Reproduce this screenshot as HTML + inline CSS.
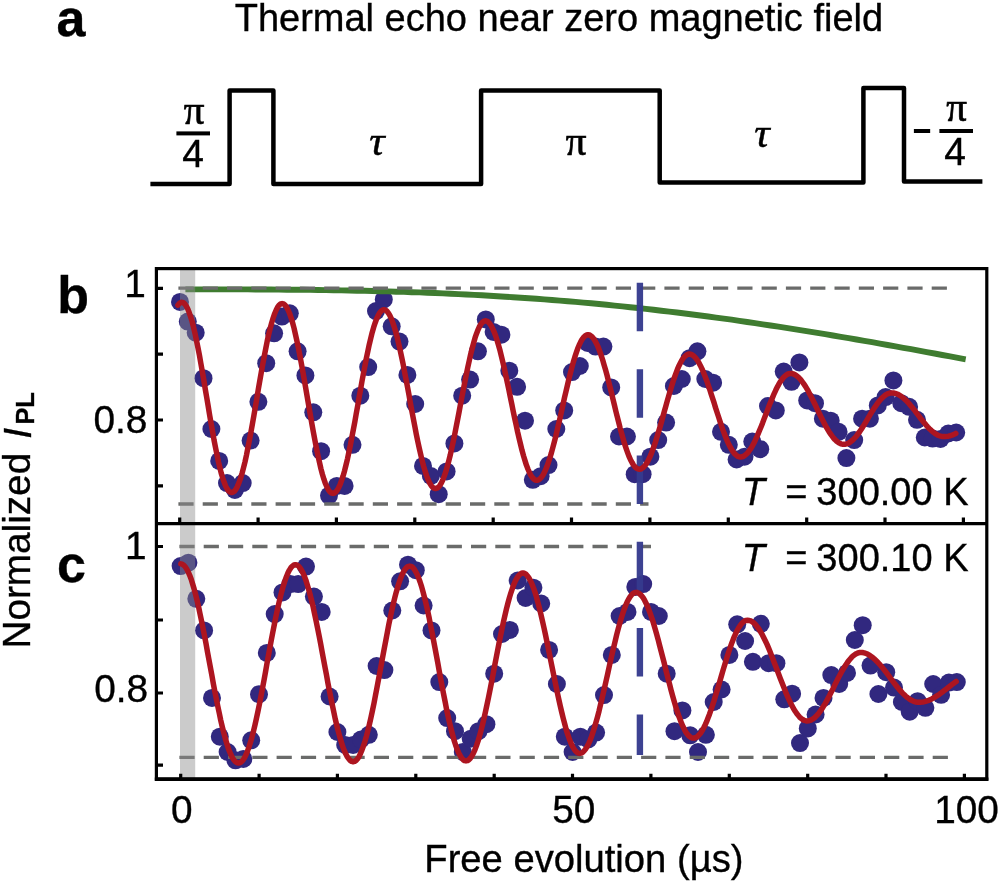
<!DOCTYPE html>
<html lang="en"><head><meta charset="utf-8"><title>Thermal echo near zero magnetic field</title>
<style>html,body{margin:0;padding:0;background:#fff}body{width:1000px;height:883px;overflow:hidden}svg{display:block}text{white-space:pre}</style>
</head><body>
<svg width="1000" height="883" viewBox="0 0 1000 883">
<rect width="1000" height="883" fill="#fff"/>
<g font-family="Liberation Sans, Arial, sans-serif" fill="#000" stroke="#000" stroke-width="0.35">
<text x="56.5" y="36.3" font-size="52" font-weight="bold">a</text>
<text x="558.9" y="30.6" font-size="38" text-anchor="middle">Thermal echo near zero magnetic field</text>
</g>
<path d="M150.4,184 H229.6 V90.4 H273.4 V184 H481.1 V90.4 H659.7 V182.4 H863.4 V88 H904 V181.4 H982.4" fill="none" stroke="#000" stroke-width="4.5" stroke-linejoin="round"/>
<g fill="#000">
<text x="194" y="124" font-size="41" text-anchor="middle" font-family="Liberation Serif, serif" stroke="#000" stroke-width="0.7">π</text>
<rect x="176.4" y="131.4" width="33.6" height="4"/>
<text x="193" y="167" font-size="39" text-anchor="middle" font-family="Liberation Sans, sans-serif" stroke="#000" stroke-width="0.35">4</text>
<text x="956.5" y="121" font-size="41" text-anchor="middle" font-family="Liberation Serif, serif" stroke="#000" stroke-width="0.7">π</text>
<rect x="939.4" y="129" width="33.6" height="4"/>
<text x="922" y="141" font-size="30" text-anchor="middle" font-family="Liberation Sans, sans-serif" stroke="#000" stroke-width="1.7">−</text>
<text x="955" y="165" font-size="39" text-anchor="middle" font-family="Liberation Sans, sans-serif" stroke="#000" stroke-width="0.35">4</text>
<text x="576" y="154.5" font-size="41" text-anchor="middle" font-family="Liberation Serif, serif" stroke="#000" stroke-width="0.7">π</text>
<text x="377" y="154.5" font-size="43" text-anchor="middle" font-style="italic" font-family="Liberation Serif, serif" stroke="#000" stroke-width="0.5">τ</text>
<text x="762" y="147" font-size="43" text-anchor="middle" font-style="italic" font-family="Liberation Serif, serif" stroke="#000" stroke-width="0.5">τ</text>
</g>
<g fill="#31287f">
<circle cx="180.0" cy="301.9" r="9.0"/>
<circle cx="187.8" cy="321.6" r="9.0"/>
<circle cx="195.7" cy="332.7" r="9.0"/>
<circle cx="203.5" cy="378.2" r="9.0"/>
<circle cx="211.4" cy="429.0" r="9.0"/>
<circle cx="219.2" cy="460.9" r="9.0"/>
<circle cx="227.0" cy="483.1" r="9.0"/>
<circle cx="234.9" cy="490.0" r="9.0"/>
<circle cx="242.7" cy="483.1" r="9.0"/>
<circle cx="250.6" cy="440.6" r="9.0"/>
<circle cx="258.4" cy="401.8" r="9.0"/>
<circle cx="266.2" cy="363.2" r="9.0"/>
<circle cx="274.1" cy="333.3" r="9.0"/>
<circle cx="281.9" cy="316.6" r="9.0"/>
<circle cx="289.8" cy="313.3" r="9.0"/>
<circle cx="297.6" cy="351.3" r="9.0"/>
<circle cx="305.4" cy="375.4" r="9.0"/>
<circle cx="313.3" cy="412.3" r="9.0"/>
<circle cx="321.1" cy="451.2" r="9.0"/>
<circle cx="329.0" cy="495.6" r="9.0"/>
<circle cx="336.8" cy="485.9" r="9.0"/>
<circle cx="344.6" cy="485.9" r="9.0"/>
<circle cx="352.5" cy="444.8" r="9.0"/>
<circle cx="360.3" cy="395.7" r="9.0"/>
<circle cx="368.2" cy="367.1" r="9.0"/>
<circle cx="376.0" cy="311.1" r="9.0"/>
<circle cx="383.8" cy="299.4" r="9.0"/>
<circle cx="391.7" cy="326.3" r="9.0"/>
<circle cx="399.5" cy="341.6" r="9.0"/>
<circle cx="407.4" cy="374.9" r="9.0"/>
<circle cx="415.2" cy="404.0" r="9.0"/>
<circle cx="423.0" cy="465.9" r="9.0"/>
<circle cx="430.9" cy="476.0" r="9.0"/>
<circle cx="438.7" cy="494.2" r="9.0"/>
<circle cx="446.6" cy="471.4" r="9.0"/>
<circle cx="454.4" cy="443.4" r="9.0"/>
<circle cx="462.2" cy="395.7" r="9.0"/>
<circle cx="470.1" cy="379.6" r="9.0"/>
<circle cx="477.9" cy="351.3" r="9.0"/>
<circle cx="485.8" cy="319.4" r="9.0"/>
<circle cx="493.6" cy="331.9" r="9.0"/>
<circle cx="501.4" cy="334.7" r="9.0"/>
<circle cx="509.3" cy="370.7" r="9.0"/>
<circle cx="517.1" cy="386.8" r="9.0"/>
<circle cx="525.0" cy="420.7" r="9.0"/>
<circle cx="532.8" cy="479.8" r="9.0"/>
<circle cx="540.6" cy="476.2" r="9.0"/>
<circle cx="548.5" cy="465.1" r="9.0"/>
<circle cx="556.3" cy="429.0" r="9.0"/>
<circle cx="564.2" cy="410.4" r="9.0"/>
<circle cx="572.0" cy="372.1" r="9.0"/>
<circle cx="579.8" cy="366.0" r="9.0"/>
<circle cx="587.7" cy="343.0" r="9.0"/>
<circle cx="595.5" cy="346.6" r="9.0"/>
<circle cx="603.4" cy="346.6" r="9.0"/>
<circle cx="611.2" cy="387.4" r="9.0"/>
<circle cx="619.0" cy="436.5" r="9.0"/>
<circle cx="626.9" cy="436.5" r="9.0"/>
<circle cx="634.7" cy="474.2" r="9.0"/>
<circle cx="642.6" cy="474.2" r="9.0"/>
<circle cx="650.4" cy="456.7" r="9.0"/>
<circle cx="658.2" cy="440.1" r="9.0"/>
<circle cx="666.1" cy="422.6" r="9.0"/>
<circle cx="673.9" cy="386.0" r="9.0"/>
<circle cx="681.8" cy="379.0" r="9.0"/>
<circle cx="689.6" cy="358.2" r="9.0"/>
<circle cx="697.4" cy="351.3" r="9.0"/>
<circle cx="705.3" cy="379.0" r="9.0"/>
<circle cx="713.1" cy="382.7" r="9.0"/>
<circle cx="721.0" cy="431.8" r="9.0"/>
<circle cx="728.8" cy="444.8" r="9.0"/>
<circle cx="736.6" cy="459.5" r="9.0"/>
<circle cx="744.5" cy="456.7" r="9.0"/>
<circle cx="752.3" cy="441.5" r="9.0"/>
<circle cx="760.2" cy="449.2" r="9.0"/>
<circle cx="768.0" cy="406.0" r="9.0"/>
<circle cx="775.8" cy="410.4" r="9.0"/>
<circle cx="783.7" cy="371.6" r="9.0"/>
<circle cx="791.5" cy="381.8" r="9.0"/>
<circle cx="799.4" cy="362.4" r="9.0"/>
<circle cx="807.2" cy="400.4" r="9.0"/>
<circle cx="815.0" cy="403.2" r="9.0"/>
<circle cx="822.9" cy="418.7" r="9.0"/>
<circle cx="830.7" cy="420.7" r="9.0"/>
<circle cx="838.6" cy="431.8" r="9.0"/>
<circle cx="846.4" cy="458.1" r="9.0"/>
<circle cx="854.2" cy="440.1" r="9.0"/>
<circle cx="862.1" cy="418.7" r="9.0"/>
<circle cx="869.9" cy="418.7" r="9.0"/>
<circle cx="877.8" cy="405.4" r="9.0"/>
<circle cx="885.6" cy="397.1" r="9.0"/>
<circle cx="893.4" cy="380.4" r="9.0"/>
<circle cx="901.3" cy="403.2" r="9.0"/>
<circle cx="909.1" cy="406.8" r="9.0"/>
<circle cx="917.0" cy="419.8" r="9.0"/>
<circle cx="924.8" cy="437.5" r="9.0"/>
<circle cx="932.6" cy="438.6" r="9.0"/>
<circle cx="940.5" cy="439.0" r="9.0"/>
<circle cx="948.3" cy="433.5" r="9.0"/>
<circle cx="956.2" cy="432.5" r="9.0"/>
<circle cx="180.6" cy="566.1" r="9.0"/>
<circle cx="188.4" cy="562.7" r="9.0"/>
<circle cx="196.3" cy="598.8" r="9.0"/>
<circle cx="204.1" cy="630.4" r="9.0"/>
<circle cx="212.0" cy="697.9" r="9.0"/>
<circle cx="219.8" cy="736.7" r="9.0"/>
<circle cx="227.6" cy="752.0" r="9.0"/>
<circle cx="235.5" cy="760.3" r="9.0"/>
<circle cx="243.3" cy="758.9" r="9.0"/>
<circle cx="251.2" cy="740.3" r="9.0"/>
<circle cx="259.0" cy="694.3" r="9.0"/>
<circle cx="266.8" cy="652.9" r="9.0"/>
<circle cx="274.7" cy="614.1" r="9.0"/>
<circle cx="282.5" cy="592.4" r="9.0"/>
<circle cx="290.4" cy="584.1" r="9.0"/>
<circle cx="298.2" cy="584.1" r="9.0"/>
<circle cx="306.0" cy="566.6" r="9.0"/>
<circle cx="313.9" cy="596.6" r="9.0"/>
<circle cx="321.7" cy="611.9" r="9.0"/>
<circle cx="329.6" cy="696.5" r="9.0"/>
<circle cx="337.4" cy="732.0" r="9.0"/>
<circle cx="345.2" cy="745.0" r="9.0"/>
<circle cx="353.1" cy="745.0" r="9.0"/>
<circle cx="360.9" cy="739.5" r="9.0"/>
<circle cx="368.8" cy="734.8" r="9.0"/>
<circle cx="376.6" cy="666.0" r="9.0"/>
<circle cx="384.4" cy="670.1" r="9.0"/>
<circle cx="392.3" cy="610.5" r="9.0"/>
<circle cx="400.1" cy="581.3" r="9.0"/>
<circle cx="408.0" cy="564.7" r="9.0"/>
<circle cx="415.8" cy="570.2" r="9.0"/>
<circle cx="423.6" cy="605.5" r="9.0"/>
<circle cx="431.5" cy="630.4" r="9.0"/>
<circle cx="439.3" cy="682.1" r="9.0"/>
<circle cx="447.2" cy="718.1" r="9.0"/>
<circle cx="455.0" cy="731.2" r="9.0"/>
<circle cx="462.8" cy="752.0" r="9.0"/>
<circle cx="470.7" cy="738.7" r="9.0"/>
<circle cx="478.5" cy="731.2" r="9.0"/>
<circle cx="486.4" cy="724.2" r="9.0"/>
<circle cx="494.2" cy="673.7" r="9.0"/>
<circle cx="502.0" cy="634.0" r="9.0"/>
<circle cx="509.9" cy="629.9" r="9.0"/>
<circle cx="517.7" cy="580.5" r="9.0"/>
<circle cx="525.6" cy="598.0" r="9.0"/>
<circle cx="533.4" cy="587.7" r="9.0"/>
<circle cx="541.2" cy="603.5" r="9.0"/>
<circle cx="549.1" cy="649.9" r="9.0"/>
<circle cx="556.9" cy="684.0" r="9.0"/>
<circle cx="564.8" cy="736.7" r="9.0"/>
<circle cx="572.6" cy="752.0" r="9.0"/>
<circle cx="580.4" cy="736.7" r="9.0"/>
<circle cx="588.3" cy="739.5" r="9.0"/>
<circle cx="596.1" cy="732.6" r="9.0"/>
<circle cx="604.0" cy="695.1" r="9.0"/>
<circle cx="611.8" cy="654.9" r="9.0"/>
<circle cx="619.6" cy="616.0" r="9.0"/>
<circle cx="627.5" cy="611.9" r="9.0"/>
<circle cx="635.3" cy="586.9" r="9.0"/>
<circle cx="643.2" cy="584.1" r="9.0"/>
<circle cx="651.0" cy="611.9" r="9.0"/>
<circle cx="658.8" cy="616.0" r="9.0"/>
<circle cx="666.7" cy="673.7" r="9.0"/>
<circle cx="674.5" cy="731.2" r="9.0"/>
<circle cx="682.4" cy="710.4" r="9.0"/>
<circle cx="690.2" cy="735.3" r="9.0"/>
<circle cx="698.0" cy="752.0" r="9.0"/>
<circle cx="705.9" cy="734.8" r="9.0"/>
<circle cx="713.7" cy="702.0" r="9.0"/>
<circle cx="721.6" cy="689.5" r="9.0"/>
<circle cx="729.4" cy="654.9" r="9.0"/>
<circle cx="737.2" cy="624.3" r="9.0"/>
<circle cx="745.1" cy="641.0" r="9.0"/>
<circle cx="752.9" cy="661.8" r="9.0"/>
<circle cx="760.8" cy="623.8" r="9.0"/>
<circle cx="768.6" cy="663.2" r="9.0"/>
<circle cx="776.4" cy="663.2" r="9.0"/>
<circle cx="784.3" cy="699.3" r="9.0"/>
<circle cx="792.1" cy="693.7" r="9.0"/>
<circle cx="800.0" cy="743.1" r="9.0"/>
<circle cx="807.8" cy="728.4" r="9.0"/>
<circle cx="815.6" cy="714.5" r="9.0"/>
<circle cx="823.5" cy="697.9" r="9.0"/>
<circle cx="831.3" cy="675.1" r="9.0"/>
<circle cx="839.2" cy="684.0" r="9.0"/>
<circle cx="847.0" cy="672.9" r="9.0"/>
<circle cx="854.8" cy="640.0" r="9.0"/>
<circle cx="862.7" cy="625.2" r="9.0"/>
<circle cx="870.5" cy="665.6" r="9.0"/>
<circle cx="878.4" cy="694.0" r="9.0"/>
<circle cx="886.2" cy="672.2" r="9.0"/>
<circle cx="894.0" cy="687.6" r="9.0"/>
<circle cx="901.9" cy="702.0" r="9.0"/>
<circle cx="909.7" cy="711.7" r="9.0"/>
<circle cx="917.6" cy="701.2" r="9.0"/>
<circle cx="925.4" cy="707.8" r="9.0"/>
<circle cx="933.2" cy="684.0" r="9.0"/>
<circle cx="941.1" cy="694.8" r="9.0"/>
<circle cx="948.9" cy="682.6" r="9.0"/>
<circle cx="956.8" cy="682.1" r="9.0"/>
</g>
<path d="M185.4,289.4 L193.2,289.4 L201.0,289.4 L208.8,289.4 L216.6,289.4 L224.4,289.4 L232.2,289.4 L240.0,289.4 L247.8,289.4 L255.6,289.5 L263.4,289.5 L271.2,289.5 L279.0,289.6 L286.8,289.7 L294.6,289.7 L302.4,289.8 L310.2,289.9 L318.1,290.0 L325.9,290.1 L333.7,290.2 L341.5,290.4 L349.3,290.5 L357.1,290.7 L364.9,290.8 L372.7,291.0 L380.5,291.2 L388.3,291.4 L396.1,291.7 L403.9,291.9 L411.7,292.2 L419.5,292.4 L427.3,292.7 L435.1,293.0 L442.9,293.4 L450.7,293.7 L458.5,294.1 L466.3,294.5 L474.1,294.9 L481.9,295.3 L489.7,295.7 L497.5,296.2 L505.3,296.7 L513.1,297.2 L520.9,297.7 L528.7,298.2 L536.5,298.8 L544.3,299.4 L552.1,300.0 L559.9,300.6 L567.7,301.2 L575.5,301.9 L583.4,302.6 L591.2,303.3 L599.0,304.0 L606.8,304.8 L614.6,305.6 L622.4,306.4 L630.2,307.2 L638.0,308.0 L645.8,308.9 L653.6,309.8 L661.4,310.7 L669.2,311.6 L677.0,312.5 L684.8,313.5 L692.6,314.5 L700.4,315.5 L708.2,316.5 L716.0,317.6 L723.8,318.6 L731.6,319.7 L739.4,320.8 L747.2,322.0 L755.0,323.1 L762.8,324.3 L770.6,325.5 L778.4,326.6 L786.2,327.9 L794.0,329.1 L801.8,330.3 L809.6,331.6 L817.4,332.9 L825.2,334.2 L833.0,335.5 L840.9,336.8 L848.7,338.1 L856.5,339.5 L864.3,340.8 L872.1,342.2 L879.9,343.6 L887.7,345.0 L895.5,346.4 L903.3,347.8 L911.1,349.2 L918.9,350.6 L926.7,352.1 L934.5,353.5 L942.3,355.0 L950.1,356.4 L957.9,357.9 L965.7,359.3" fill="none" stroke="#3f7c30" stroke-width="5.9"/>
<g stroke="#6a6b6a" stroke-width="3.3" stroke-dasharray="15.2 9.1" fill="none">
<path d="M178.4,288.2 H947.2"/>
<path d="M178.4,504 H648.5"/>
<path d="M179.4,546.5 H651"/>
<path d="M179.4,757.4 H948.5"/>
</g>
<rect x="180" y="268" width="15.2" height="511" fill="#8c8c8c" fill-opacity="0.45"/>
<g stroke="#353a8e" stroke-width="6.4" stroke-dasharray="48.5 37.9" fill="none" stroke-opacity="0.96">
<path d="M639.9,282.8 V505"/>
<path d="M639.9,541.7 V755"/>
</g>
<g stroke="#ad1520" stroke-width="5.5" fill="none" stroke-linejoin="round" stroke-linecap="round">
<path d="M177.9,305.2 L178.4,304.5 L178.9,303.9 L179.4,303.4 L179.9,303.0 L180.4,302.7 L180.9,302.5 L181.4,302.3 L181.8,302.3 L183.3,302.7 L184.7,303.9 L186.2,305.9 L187.7,308.7 L189.1,312.3 L190.6,316.6 L192.1,321.5 L193.5,327.1 L195.0,333.3 L196.4,340.1 L197.9,347.4 L199.4,355.0 L200.8,363.1 L202.3,371.4 L203.8,380.0 L205.2,388.7 L206.7,397.4 L208.2,406.2 L209.6,414.9 L211.1,423.5 L212.6,431.8 L214.0,439.9 L215.5,447.5 L217.0,454.8 L218.4,461.6 L219.9,467.8 L221.3,473.4 L222.8,478.3 L224.3,482.6 L225.7,486.2 L227.2,489.0 L228.7,491.0 L230.1,492.2 L231.6,492.6 L233.1,492.2 L234.6,491.0 L236.1,489.0 L237.5,486.2 L239.0,482.7 L240.5,478.4 L242.0,473.5 L243.5,467.9 L245.0,461.8 L246.5,455.0 L247.9,447.8 L249.4,440.2 L250.9,432.2 L252.4,424.0 L253.9,415.5 L255.4,406.8 L256.9,398.1 L258.3,389.4 L259.8,380.7 L261.3,372.2 L262.8,364.0 L264.3,356.0 L265.8,348.4 L267.2,341.2 L268.7,334.4 L270.2,328.3 L271.7,322.7 L273.2,317.8 L274.7,313.5 L276.2,310.0 L277.6,307.2 L279.1,305.2 L280.6,304.0 L282.1,303.6 L283.6,304.0 L285.1,305.2 L286.6,307.2 L288.1,310.0 L289.6,313.5 L291.1,317.8 L292.6,322.8 L294.1,328.4 L295.5,334.6 L297.0,341.3 L298.5,348.5 L300.0,356.2 L301.5,364.2 L303.0,372.5 L304.5,381.1 L306.0,389.7 L307.5,398.5 L309.0,407.3 L310.5,415.9 L312.0,424.5 L313.5,432.8 L315.0,440.8 L316.5,448.5 L318.0,455.7 L319.5,462.4 L320.9,468.6 L322.4,474.2 L323.9,479.2 L325.4,483.5 L326.9,487.0 L328.4,489.8 L329.9,491.8 L331.4,493.0 L332.9,493.4 L334.4,493.0 L335.8,491.9 L337.3,490.1 L338.7,487.5 L340.2,484.3 L341.6,480.4 L343.1,475.9 L344.6,470.7 L346.0,465.0 L347.5,458.8 L348.9,452.1 L350.4,445.1 L351.8,437.6 L353.3,429.9 L354.8,422.0 L356.2,413.9 L357.7,405.7 L359.1,397.4 L360.6,389.2 L362.0,381.1 L363.5,373.2 L365.0,365.5 L366.4,358.0 L367.9,351.0 L369.3,344.3 L370.8,338.1 L372.2,332.4 L373.7,327.2 L375.2,322.7 L376.6,318.8 L378.1,315.6 L379.5,313.0 L381.0,311.2 L382.4,310.1 L383.9,309.7 L385.4,310.1 L386.8,311.1 L388.3,312.9 L389.8,315.4 L391.3,318.6 L392.7,322.4 L394.2,326.8 L395.7,331.8 L397.2,337.3 L398.6,343.4 L400.1,349.9 L401.6,356.8 L403.1,364.0 L404.5,371.5 L406.0,379.2 L407.5,387.1 L409.0,395.1 L410.4,403.2 L411.9,411.2 L413.4,419.1 L414.9,426.8 L416.3,434.3 L417.8,441.5 L419.3,448.4 L420.8,454.9 L422.2,461.0 L423.7,466.5 L425.2,471.5 L426.7,475.9 L428.1,479.7 L429.6,482.9 L431.1,485.4 L432.6,487.2 L434.0,488.2 L435.5,488.6 L437.0,488.2 L438.4,487.2 L439.9,485.4 L441.4,482.9 L442.8,479.8 L444.3,476.0 L445.8,471.7 L447.2,466.7 L448.7,461.2 L450.2,455.3 L451.6,448.9 L453.1,442.1 L454.6,435.0 L456.0,427.7 L457.5,420.1 L459.0,412.4 L460.4,404.7 L461.9,397.0 L463.4,389.3 L464.9,381.7 L466.3,374.4 L467.8,367.3 L469.3,360.5 L470.7,354.1 L472.2,348.2 L473.7,342.7 L475.1,337.7 L476.6,333.4 L478.1,329.6 L479.5,326.5 L481.0,324.0 L482.5,322.2 L483.9,321.2 L485.4,320.8 L486.9,321.1 L488.3,322.1 L489.8,323.7 L491.3,325.9 L492.7,328.7 L494.2,332.1 L495.7,336.0 L497.1,340.5 L498.6,345.4 L500.1,350.8 L501.5,356.6 L503.0,362.8 L504.5,369.2 L505.9,375.9 L507.4,382.8 L508.9,389.8 L510.3,397.0 L511.8,404.1 L513.2,411.3 L514.7,418.3 L516.2,425.2 L517.6,431.9 L519.1,438.3 L520.6,444.5 L522.0,450.3 L523.5,455.7 L525.0,460.6 L526.4,465.1 L527.9,469.0 L529.4,472.4 L530.8,475.2 L532.3,477.4 L533.8,479.0 L535.2,480.0 L536.7,480.3 L538.2,480.0 L539.6,479.1 L541.1,477.7 L542.6,475.7 L544.0,473.1 L545.5,470.0 L547.0,466.4 L548.4,462.3 L549.9,457.8 L551.4,452.9 L552.8,447.6 L554.3,442.0 L555.8,436.1 L557.2,430.0 L558.7,423.7 L560.2,417.3 L561.6,410.8 L563.1,404.2 L564.5,397.7 L566.0,391.3 L567.5,385.0 L568.9,378.9 L570.4,373.0 L571.9,367.4 L573.3,362.1 L574.8,357.2 L576.3,352.7 L577.7,348.6 L579.2,345.0 L580.7,341.9 L582.1,339.3 L583.6,337.3 L585.1,335.9 L586.5,335.0 L588.0,334.7 L589.5,335.0 L590.9,335.8 L592.4,337.1 L593.9,339.0 L595.3,341.4 L596.8,344.2 L598.3,347.5 L599.7,351.3 L601.2,355.5 L602.7,360.0 L604.1,364.9 L605.6,370.1 L607.1,375.5 L608.5,381.2 L610.0,387.0 L611.5,392.9 L612.9,398.9 L614.4,405.0 L615.8,411.0 L617.3,416.9 L618.8,422.7 L620.2,428.4 L621.7,433.8 L623.2,439.0 L624.6,443.9 L626.1,448.4 L627.6,452.6 L629.0,456.4 L630.5,459.7 L632.0,462.5 L633.4,464.9 L634.9,466.8 L636.4,468.1 L637.8,468.9 L639.3,469.2 L640.8,469.0 L642.2,468.2 L643.7,467.0 L645.2,465.3 L646.7,463.2 L648.1,460.6 L649.6,457.6 L651.1,454.2 L652.5,450.4 L654.0,446.3 L655.5,441.9 L656.9,437.3 L658.4,432.4 L659.9,427.4 L661.4,422.2 L662.8,417.0 L664.3,411.6 L665.8,406.3 L667.2,401.1 L668.7,395.9 L670.2,390.9 L671.7,386.0 L673.1,381.4 L674.6,377.0 L676.1,372.9 L677.5,369.1 L679.0,365.7 L680.5,362.7 L681.9,360.1 L683.4,358.0 L684.9,356.3 L686.4,355.1 L687.8,354.3 L689.3,354.1 L690.8,354.3 L692.2,354.9 L693.7,356.0 L695.2,357.4 L696.6,359.2 L698.1,361.4 L699.5,363.9 L701.0,366.8 L702.5,370.0 L703.9,373.5 L705.4,377.2 L706.9,381.2 L708.3,385.3 L709.8,389.7 L711.2,394.1 L712.7,398.6 L714.2,403.2 L715.6,407.9 L717.1,412.5 L718.6,417.0 L720.0,421.4 L721.5,425.8 L722.9,429.9 L724.4,433.9 L725.9,437.6 L727.3,441.1 L728.8,444.3 L730.3,447.2 L731.7,449.7 L733.2,451.9 L734.6,453.7 L736.1,455.1 L737.6,456.2 L739.0,456.8 L740.5,457.0 L742.0,456.8 L743.4,456.3 L744.9,455.4 L746.4,454.2 L747.9,452.6 L749.3,450.7 L750.8,448.6 L752.3,446.1 L753.7,443.4 L755.2,440.4 L756.7,437.2 L758.1,433.9 L759.6,430.3 L761.1,426.7 L762.6,422.9 L764.0,419.1 L765.5,415.2 L767.0,411.4 L768.4,407.6 L769.9,403.8 L771.4,400.2 L772.9,396.6 L774.3,393.3 L775.8,390.1 L777.3,387.1 L778.7,384.4 L780.2,381.9 L781.7,379.8 L783.1,377.9 L784.6,376.3 L786.1,375.1 L787.6,374.2 L789.0,373.7 L790.5,373.5 L792.0,373.6 L793.5,374.0 L794.9,374.7 L796.4,375.6 L797.9,376.8 L799.4,378.2 L800.9,379.9 L802.3,381.8 L803.8,383.9 L805.3,386.1 L806.8,388.6 L808.3,391.2 L809.7,393.9 L811.2,396.8 L812.7,399.7 L814.2,402.8 L815.7,405.8 L817.1,408.9 L818.6,412.0 L820.1,415.0 L821.6,418.1 L823.1,421.0 L824.6,423.9 L826.0,426.6 L827.5,429.2 L829.0,431.7 L830.5,433.9 L832.0,436.0 L833.4,437.9 L834.9,439.6 L836.4,441.0 L837.9,442.2 L839.4,443.1 L840.8,443.8 L842.3,444.2 L843.8,444.3 L845.3,444.2 L846.7,443.8 L848.2,443.3 L849.6,442.5 L851.1,441.4 L852.5,440.2 L854.0,438.8 L855.4,437.2 L856.9,435.4 L858.3,433.5 L859.8,431.5 L861.3,429.3 L862.7,427.0 L864.2,424.7 L865.6,422.3 L867.1,419.8 L868.5,417.4 L870.0,414.9 L871.4,412.5 L872.9,410.2 L874.3,407.9 L875.8,405.8 L877.3,403.7 L878.7,401.8 L880.2,400.0 L881.6,398.4 L883.1,397.0 L884.5,395.8 L886.0,394.7 L887.4,393.9 L888.9,393.4 L890.3,393.0 L891.8,392.9 L893.3,393.0 L894.8,393.3 L896.3,393.7 L897.8,394.3 L899.3,395.1 L900.7,396.0 L902.2,397.1 L903.7,398.3 L905.2,399.7 L906.7,401.1 L908.2,402.7 L909.7,404.4 L911.2,406.2 L912.7,408.0 L914.2,409.9 L915.7,411.8 L917.2,413.8 L918.6,415.7 L920.1,417.7 L921.6,419.6 L923.1,421.5 L924.6,423.3 L926.1,425.1 L927.6,426.8 L929.1,428.4 L930.6,429.8 L932.1,431.2 L933.6,432.4 L935.1,433.5 L936.5,434.4 L938.0,435.2 L939.5,435.8 L941.0,436.2 L942.5,436.5 L944.0,436.6 L945.5,436.6 L946.9,436.4 L948.4,436.2 L949.8,435.8 L951.3,435.4 L952.7,434.9 L954.2,434.3 L955.7,433.6 L955.8,433.5"/>
<path d="M180.8,563.9 L182.3,564.2 L183.8,565.2 L185.2,566.8 L186.7,569.0 L188.2,571.9 L189.7,575.3 L191.2,579.3 L192.6,583.9 L194.1,588.9 L195.6,594.5 L197.1,600.5 L198.6,606.9 L200.0,613.7 L201.5,620.8 L203.0,628.2 L204.5,635.8 L206.0,643.6 L207.4,651.5 L208.9,659.5 L210.4,667.5 L211.9,675.5 L213.3,683.4 L214.8,691.2 L216.3,698.8 L217.8,706.2 L219.3,713.3 L220.7,720.1 L222.2,726.5 L223.7,732.5 L225.2,738.1 L226.7,743.1 L228.1,747.7 L229.6,751.7 L231.1,755.1 L232.6,758.0 L234.1,760.2 L235.5,761.8 L237.0,762.8 L238.5,763.1 L240.0,762.8 L241.5,761.7 L243.0,760.1 L244.5,757.7 L246.0,754.7 L247.5,751.1 L249.0,746.9 L250.5,742.2 L252.0,736.9 L253.5,731.1 L255.0,724.8 L256.5,718.2 L258.0,711.1 L259.5,703.7 L261.0,696.1 L262.5,688.3 L264.0,680.2 L265.5,672.1 L266.9,663.9 L268.4,655.7 L269.9,647.6 L271.4,639.5 L272.9,631.7 L274.4,624.1 L275.9,616.7 L277.4,609.6 L278.9,603.0 L280.4,596.7 L281.9,590.9 L283.4,585.6 L284.9,580.9 L286.4,576.7 L287.9,573.1 L289.4,570.1 L290.9,567.7 L292.4,566.1 L293.9,565.0 L295.4,564.7 L296.9,565.0 L298.4,566.0 L299.8,567.6 L301.3,569.8 L302.8,572.6 L304.3,576.0 L305.8,579.9 L307.2,584.5 L308.7,589.5 L310.2,595.0 L311.7,600.9 L313.2,607.2 L314.6,614.0 L316.1,621.0 L317.6,628.3 L319.1,635.8 L320.6,643.5 L322.0,651.3 L323.5,659.2 L325.0,667.2 L326.5,675.1 L327.9,682.9 L329.4,690.6 L330.9,698.1 L332.4,705.4 L333.9,712.5 L335.3,719.2 L336.8,725.5 L338.3,731.4 L339.8,736.9 L341.3,741.9 L342.7,746.5 L344.2,750.4 L345.7,753.8 L347.2,756.6 L348.7,758.8 L350.1,760.4 L351.6,761.4 L353.1,761.7 L354.6,761.4 L356.1,760.4 L357.6,758.7 L359.1,756.4 L360.5,753.5 L362.0,749.9 L363.5,745.8 L365.0,741.1 L366.5,735.9 L368.0,730.1 L369.5,724.0 L371.0,717.4 L372.5,710.4 L374.0,703.2 L375.4,695.7 L376.9,687.9 L378.4,680.0 L379.9,672.0 L381.4,663.9 L382.9,655.8 L384.4,647.8 L385.9,639.9 L387.4,632.1 L388.8,624.6 L390.3,617.4 L391.8,610.4 L393.3,603.8 L394.8,597.7 L396.3,591.9 L397.8,586.7 L399.3,582.0 L400.8,577.9 L402.3,574.3 L403.7,571.4 L405.2,569.1 L406.7,567.4 L408.2,566.4 L409.7,566.1 L411.2,566.4 L412.7,567.4 L414.1,569.1 L415.6,571.4 L417.1,574.3 L418.6,577.8 L420.1,582.0 L421.6,586.6 L423.0,591.8 L424.5,597.5 L426.0,603.7 L427.5,610.2 L429.0,617.1 L430.4,624.4 L431.9,631.9 L433.4,639.6 L434.9,647.5 L436.4,655.5 L437.9,663.5 L439.3,671.5 L440.8,679.5 L442.3,687.4 L443.8,695.1 L445.3,702.6 L446.7,709.9 L448.2,716.8 L449.7,723.3 L451.2,729.5 L452.7,735.2 L454.1,740.4 L455.6,745.0 L457.1,749.2 L458.6,752.7 L460.1,755.6 L461.6,757.9 L463.0,759.6 L464.5,760.6 L466.0,760.9 L467.5,760.6 L469.0,759.6 L470.5,758.0 L472.0,755.8 L473.5,753.0 L475.0,749.6 L476.5,745.6 L478.0,741.1 L479.5,736.1 L481.0,730.6 L482.5,724.7 L484.0,718.3 L485.5,711.7 L487.0,704.7 L488.5,697.5 L490.0,690.0 L491.5,682.4 L493.0,674.7 L494.4,667.0 L495.9,659.2 L497.4,651.5 L498.9,643.9 L500.4,636.4 L501.9,629.2 L503.4,622.2 L504.9,615.6 L506.4,609.2 L507.9,603.3 L509.4,597.8 L510.9,592.8 L512.4,588.3 L513.9,584.3 L515.4,580.9 L516.9,578.1 L518.4,575.9 L519.9,574.3 L521.4,573.3 L522.9,573.0 L524.4,573.3 L525.9,574.2 L527.4,575.8 L528.9,577.9 L530.4,580.6 L531.9,583.9 L533.4,587.7 L534.9,592.0 L536.4,596.8 L537.8,602.1 L539.3,607.8 L540.8,613.9 L542.3,620.3 L543.8,627.0 L545.3,633.9 L546.8,641.1 L548.3,648.4 L549.8,655.8 L551.3,663.2 L552.8,670.6 L554.3,678.0 L555.8,685.3 L557.3,692.5 L558.8,699.4 L560.3,706.1 L561.8,712.5 L563.3,718.6 L564.8,724.3 L566.2,729.6 L567.7,734.4 L569.2,738.7 L570.7,742.5 L572.2,745.8 L573.7,748.5 L575.2,750.6 L576.7,752.2 L578.2,753.1 L579.7,753.4 L581.2,753.1 L582.7,752.3 L584.1,750.9 L585.6,749.0 L587.1,746.6 L588.6,743.7 L590.1,740.3 L591.6,736.4 L593.0,732.1 L594.5,727.4 L596.0,722.3 L597.5,716.9 L599.0,711.2 L600.4,705.2 L601.9,699.0 L603.4,692.7 L604.9,686.1 L606.4,679.5 L607.9,672.9 L609.3,666.3 L610.8,659.7 L612.3,653.1 L613.8,646.8 L615.3,640.6 L616.7,634.6 L618.2,628.9 L619.7,623.5 L621.2,618.4 L622.7,613.7 L624.1,609.4 L625.6,605.5 L627.1,602.1 L628.6,599.2 L630.1,596.8 L631.6,594.9 L633.0,593.5 L634.5,592.7 L636.0,592.4 L637.5,592.6 L638.9,593.3 L640.4,594.5 L641.9,596.1 L643.4,598.2 L644.8,600.7 L646.3,603.7 L647.8,607.0 L649.2,610.7 L650.7,614.8 L652.2,619.2 L653.7,623.9 L655.1,628.8 L656.6,634.0 L658.1,639.4 L659.5,645.0 L661.0,650.7 L662.5,656.5 L664.0,662.3 L665.4,668.2 L666.9,674.0 L668.4,679.8 L669.9,685.5 L671.3,691.1 L672.8,696.5 L674.3,701.7 L675.7,706.6 L677.2,711.3 L678.7,715.7 L680.2,719.8 L681.6,723.5 L683.1,726.8 L684.6,729.8 L686.0,732.3 L687.5,734.4 L689.0,736.0 L690.5,737.2 L691.9,737.9 L693.4,738.1 L694.9,737.9 L696.3,737.3 L697.8,736.2 L699.2,734.7 L700.7,732.9 L702.2,730.6 L703.6,728.0 L705.1,725.0 L706.6,721.7 L708.0,718.1 L709.5,714.2 L710.9,710.1 L712.4,705.7 L713.9,701.1 L715.3,696.4 L716.8,691.6 L718.3,686.6 L719.7,681.7 L721.2,676.6 L722.6,671.7 L724.1,666.7 L725.6,661.9 L727.0,657.2 L728.5,652.6 L730.0,648.2 L731.4,644.1 L732.9,640.2 L734.3,636.6 L735.8,633.3 L737.3,630.3 L738.7,627.7 L740.2,625.4 L741.7,623.6 L743.1,622.1 L744.6,621.0 L746.0,620.4 L747.5,620.2 L749.0,620.4 L750.5,620.8 L752.0,621.6 L753.5,622.7 L755.0,624.0 L756.4,625.7 L757.9,627.6 L759.4,629.8 L760.9,632.3 L762.4,634.9 L763.9,637.9 L765.4,641.0 L766.9,644.2 L768.4,647.7 L769.9,651.3 L771.3,655.0 L772.8,658.8 L774.3,662.7 L775.8,666.6 L777.3,670.5 L778.8,674.5 L780.3,678.4 L781.8,682.3 L783.3,686.1 L784.8,689.8 L786.2,693.4 L787.7,696.9 L789.2,700.1 L790.7,703.2 L792.2,706.2 L793.7,708.8 L795.2,711.3 L796.7,713.5 L798.2,715.4 L799.6,717.1 L801.1,718.4 L802.6,719.5 L804.1,720.3 L805.6,720.7 L807.1,720.9 L808.6,720.8 L810.1,720.4 L811.6,719.7 L813.1,718.8 L814.6,717.7 L816.0,716.3 L817.5,714.7 L819.0,712.9 L820.5,710.9 L822.0,708.7 L823.5,706.3 L825.0,703.8 L826.5,701.2 L828.0,698.4 L829.5,695.6 L831.0,692.6 L832.5,689.7 L834.0,686.7 L835.4,683.7 L836.9,680.8 L838.4,677.8 L839.9,675.0 L841.4,672.2 L842.9,669.6 L844.4,667.1 L845.9,664.7 L847.4,662.5 L848.9,660.5 L850.4,658.7 L851.8,657.1 L853.3,655.7 L854.8,654.6 L856.3,653.7 L857.8,653.0 L859.3,652.6 L860.8,652.5 L862.3,652.6 L863.8,652.8 L865.3,653.2 L866.8,653.8 L868.3,654.5 L869.8,655.4 L871.2,656.4 L872.7,657.5 L874.2,658.8 L875.7,660.2 L877.2,661.7 L878.7,663.3 L880.2,664.9 L881.7,666.7 L883.2,668.6 L884.7,670.5 L886.2,672.4 L887.7,674.4 L889.2,676.4 L890.6,678.4 L892.1,680.4 L893.6,682.4 L895.1,684.3 L896.6,686.2 L898.1,688.1 L899.6,689.9 L901.1,691.5 L902.6,693.1 L904.1,694.6 L905.6,696.0 L907.1,697.3 L908.6,698.4 L910.0,699.4 L911.5,700.3 L913.0,701.0 L914.5,701.6 L916.0,702.0 L917.5,702.2 L919.0,702.3 L920.5,702.3 L921.9,702.1 L923.4,701.9 L924.8,701.6 L926.3,701.2 L927.8,700.7 L929.2,700.1 L930.7,699.4 L932.2,698.7 L933.6,697.9 L935.1,697.1 L936.5,696.1 L938.0,695.2 L939.5,694.2 L940.9,693.1 L942.4,692.0 L943.8,690.9 L945.3,689.8 L946.8,688.6 L948.2,687.5 L949.7,686.3 L951.2,685.2 L952.6,684.1 L954.1,683.0 L955.5,681.9 L956.2,681.5"/>
</g>
<g stroke="#000" stroke-width="3.2" fill="none">
<rect x="156.4" y="268.6" width="830.4" height="510.4"/>
<path d="M154.8,779.3 H988.4" stroke-width="3.6"/>
<path d="M156.3,523.6 H986.8"/>
<path d="M180.7,779 v-5.2 M179.7,523.6 v-6 M259.1,779 v-5.2 M258.1,523.6 v-6 M337.4,779 v-5.2 M336.4,523.6 v-6 M415.8,779 v-5.2 M414.8,523.6 v-6 M494.2,779 v-5.2 M493.2,523.6 v-6 M572.5,779 v-5.2 M571.5,523.6 v-6 M650.9,779 v-5.2 M649.9,523.6 v-6 M729.3,779 v-5.2 M728.3,523.6 v-6 M807.7,779 v-5.2 M806.7,523.6 v-6 M886.0,779 v-5.2 M885.0,523.6 v-6 M964.4,779 v-5.2 M963.4,523.6 v-6"/>
<path d="M156.3,288.3 h6.7 M156.3,354.2 h6.7 M156.3,420 h6.7 M156.3,485.9 h6.7 M156.3,546.5 h6.7 M156.3,620 h6.7 M156.3,693 h6.7 M156.3,765.2 h6.7"/>
</g>
<g font-family="Liberation Sans, Arial, sans-serif" fill="#000" stroke="#000" stroke-width="0.35" font-size="38.8">
<text x="145.8" y="296.6" text-anchor="end">1</text>
<text x="147.4" y="433" text-anchor="end">0.8</text>
<text x="146.6" y="558.6" text-anchor="end">1</text>
<text x="148.2" y="701.8" text-anchor="end">0.8</text>
<text x="181.7" y="822.8" text-anchor="middle">0</text>
<text x="573.8" y="822.8" text-anchor="middle">50</text>
<text x="966.6" y="822.8" text-anchor="middle">100</text>
<text x="583.9" y="871.7" text-anchor="middle" font-size="38.2">Free evolution (µs)</text>
<text transform="translate(30.1,648.5) rotate(-90)" font-size="38.7">Normalized</text>
<text transform="translate(31.4,438.7) rotate(-90)" font-size="39" font-style="italic">I</text>
<text transform="translate(33.8,424.6) rotate(-90)" font-size="25.4" font-weight="bold">PL</text>
<text x="741.7" y="505.3" font-size="38" font-style="italic">T</text>
<text x="785.2" y="505.3" font-size="38">=</text>
<text x="968.5" y="505.3" font-size="38" text-anchor="end">300.00 K</text>
<text x="741.7" y="571.3" font-size="38" font-style="italic">T</text>
<text x="785.2" y="571.3" font-size="38">=</text>
<text x="968.5" y="571.3" font-size="38" text-anchor="end">300.10 K</text>
<text x="57.2" y="313.1" font-size="52" font-weight="bold">b</text>
<text x="57" y="582" font-size="52" font-weight="bold">c</text>
</g>
</svg>
</body></html>
